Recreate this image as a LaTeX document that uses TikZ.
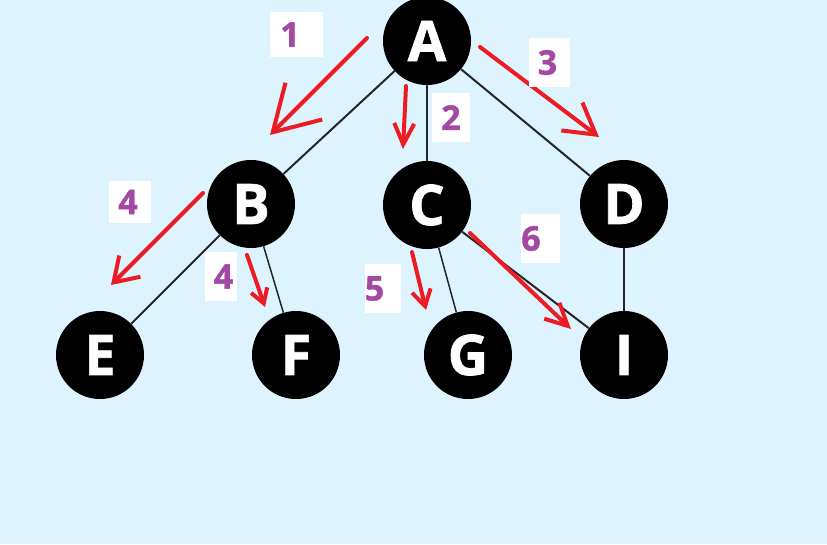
\documentclass[tikz,border=0pt]{standalone}
\usepackage{fontspec}
\setmainfont{Open Sans}
\newfontfamily\heavyfont{Open Sans}[BoldFeatures={FakeBold=1.2}]
\usetikzlibrary{arrows.meta}
\definecolor{bgblue}{HTML}{DDF3FE}
\definecolor{arrowred}{HTML}{ED1C24}
\definecolor{steppurple}{HTML}{A349A4}
\tikzset{
    vertex/.style={circle,fill=black,minimum size=88pt,inner sep=0pt,text=white,font=\fontsize{56}{56}\selectfont\heavyfont\bfseries},
    edge/.style={draw=black!85,line width=2pt},
    visit/.style={draw=arrowred,line width=4pt,line cap=round},
    order/.style={rectangle,fill=white,text=steppurple,inner sep=0pt,font=\fontsize{34}{34}\selectfont\heavyfont\bfseries,execute at begin node={\hspace*{#1}}},
    order/.default=0pt
}
\begin{document}
\begin{tikzpicture}[x=1pt,y=-1pt]
        \fill[bgblue] (0,0) rectangle (827,544);
        \useasboundingbox (0,0) rectangle (827,544);

        \node[vertex] (A) at (427,41) {A};
        \node[vertex] (B) at (251,204) {B};
        \node[vertex] (C) at (427,205) {C};
        \node[vertex] (D) at (624,204) {D};
        \node[vertex] (E) at (100,355) {E};
        \node[vertex] (F) at (296,355) {F};
        \node[vertex] (G) at (468,355) {G};
        \node[vertex] (I) at (624,355) {I};

        \draw[edge] (A) -- (B);
        \draw[edge] (A) -- (C);
        \draw[edge] (A) -- (D);
        \draw[edge] (B) -- (E);
        \draw[edge,line width=1.5pt] (B) -- (F);
        \draw[edge,line width=1.5pt] (C) -- (G);
        \draw[edge] (C) -- (I);
        \draw[edge,line width=1.5pt] (D) -- (I);

        \draw[visit,-{Straight Barb[length=44pt,width=52pt]}] (367,38) -- (270,135);
        \draw[visit,-{Straight Barb[length=21pt,width=20pt]}] (406,86) -- (403,149);
        \draw[visit,-{Straight Barb[length=30pt,width=35pt]}] (480,47) -- (599,137);
        \draw[visit,-{Straight Barb[length=23pt,width=30pt]}] (203,193) -- (111,285);
        \draw[visit,-{Straight Barb[length=14pt,width=17pt]}] (247,255) -- (265,307);
        \draw[visit,-{Straight Barb[length=16pt,width=19pt]}] (412,252) -- (426,310);
        \draw[visit,-{Straight Barb[length=22pt,width=22pt]}] (470,233) -- (571,329);

        \node[order=-13pt,minimum width=53pt,minimum height=45pt] (o1) at (296.5,34.5) {1};
        \node[order,minimum width=38pt,minimum height=49pt] (o2) at (451,117.5) {2};
        \node[order=-4pt,minimum width=41pt,minimum height=49pt] (o3) at (549.5,62.5) {3};
        \node[order=-4pt,minimum width=42pt,minimum height=42pt] (o4) at (130,202) {4};
        \node[order=5pt,minimum width=32pt,minimum height=49pt] (o4b) at (221,276.5) {4};
        \node[order=-17pt,minimum width=36pt,minimum height=49pt] (o5) at (383,288.5) {5};
        \node[order=-19pt,minimum width=39pt,minimum height=49pt] (o6) at (540.5,238.5) {6};
    \end{tikzpicture}
\end{document}
